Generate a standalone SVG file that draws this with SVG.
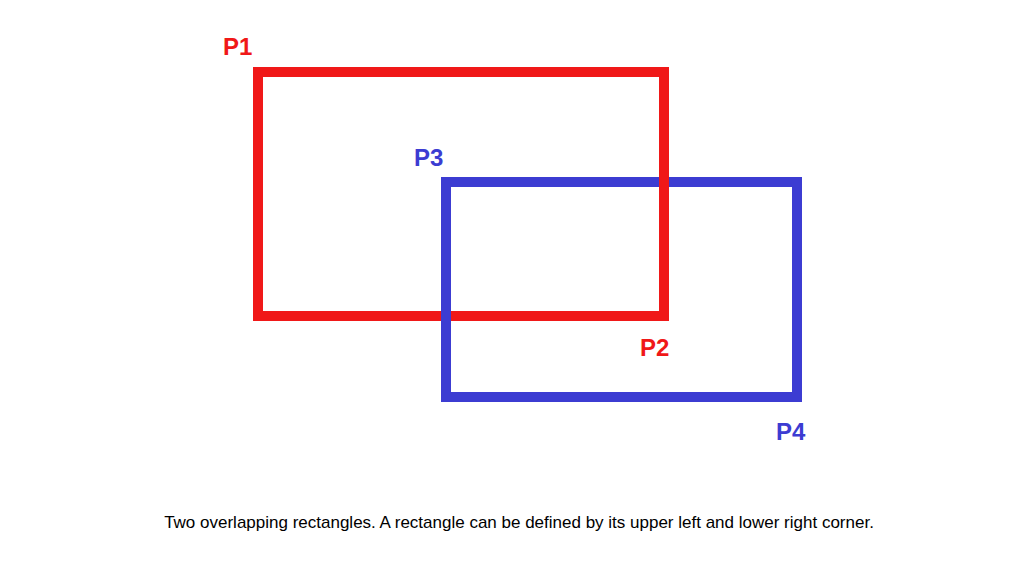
<svg xmlns="http://www.w3.org/2000/svg" width="1032" height="570" viewBox="0 0 1032 570">
<style>
.r{fill:none;stroke:#f01818;stroke-width:10}
.b{fill:none;stroke:#3c3cd2;stroke-width:10}
.lr{font:bold 24px "Liberation Sans",Arial,sans-serif;fill:#f01818}
.lb{font:bold 24px "Liberation Sans",Arial,sans-serif;fill:#3c3cd2}
.cap{font:17px "Liberation Sans",Arial,sans-serif;fill:#000}
</style>
<rect width="1032" height="570" fill="#fff"/>
<g id="red"><rect class="r" x="258" y="72" width="406" height="244"/></g>
<g id="blue"><rect class="b" x="446" y="182" width="351" height="215"/></g>
<g id="connectors"><line class="r" x1="664" y1="176" x2="664" y2="190"/></g>
<text class="lr" x="223" y="55">P1</text>
<text class="lr" x="640" y="356">P2</text>
<text class="lb" x="414" y="166">P3</text>
<text class="lb" x="776" y="440">P4</text>
<text class="cap" x="519" y="528" text-anchor="middle">Two overlapping rectangles. A rectangle can be defined by its upper left and lower right corner.</text>
</svg>
